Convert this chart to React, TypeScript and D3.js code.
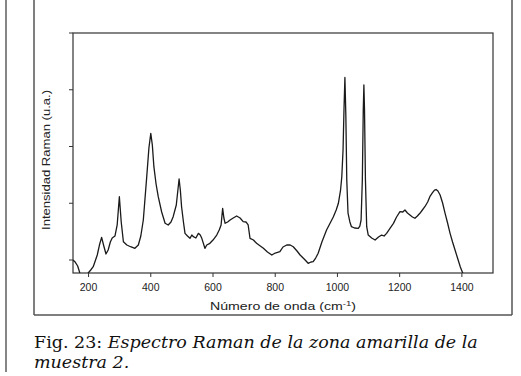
import React from "react";
import * as d3 from "d3";

const wavenumbers = [150,156,165,172,180,192,199,207,215,228,235,242,249,256,263,270,276,285,292,299,305,312,323,335,349,360,368,376,387,394,400,405,410,417,424,435,446,456,465,472,482,491,495,499,505,510,518,526,532,537,545,553,559,564,574,580,590,600,612,620,626,631,635,639,647,655,665,676,687,697,706,713,719,730,740,752,762,775,789,800,815,825,837,848,858,870,880,893,906,915,922,930,938,950,965,975,987,996,1003,1010,1014,1018,1021,1024,1027,1030,1034,1040,1045,1055,1067,1072,1076,1080,1083,1085,1087,1090,1094,1099,1110,1121,1132,1142,1150,1158,1170,1180,1190,1201,1210,1217,1225,1233,1241,1249,1257,1265,1273,1281,1290,1297,1305,1312,1317,1323,1330,1338,1346,1354,1362,1370,1378,1386,1395,1403];
const intensity = [0,-30,-106,-229,-300,-300,-229,-176,-118,88,264,400,247,106,176,317,388,423,617,1115,670,322,264,234,206,264,423,705,1468,1973,2232,2026,1644,1339,1115,846,647,617,670,763,969,1427,1233,939,670,470,423,382,440,411,388,470,440,382,206,264,294,352,440,529,617,911,740,647,670,705,740,775,740,675,670,617,382,352,294,247,206,141,88,123,146,229,264,264,234,159,88,18,-58,-35,-30,35,118,317,529,634,763,881,999,1233,1468,1938,2643,3216,2555,1410,828,670,587,564,559,599,705,1410,2643,3084,2643,1410,587,440,388,352,405,440,423,470,564,646,758,851,846,881,828,793,758,735,775,823,881,939,1022,1115,1181,1233,1242,1216,1145,1004,823,652,470,317,176,35,-123,-234];

const xTicks = [200, 400, 600, 800, 1000, 1200, 1400];
const yTicks = [0, 1000, 2000, 3000, 4000];

export default function App() {
  const W = 521, H = 376;
  const left = 73, right = 493, top = 33, bottom = 273;
  const x = d3.scaleLinear().domain([150, 1500]).range([left, right]);
  const y = d3.scaleLinear().domain([-229, 4000]).range([bottom, top]);
  const data = wavenumbers.map((w, i) => [w, intensity[i]] as [number, number]);
  const line = d3.line<[number, number]>().x(d => x(d[0])).y(d => y(d[1])).curve(d3.curveLinear);
  const frame = "#555";
  const font = "Liberation Sans, Arial, sans-serif";
  return (
    <svg width={W} height={H} style={{ position: "absolute", left: 0, top: 0, background: "#fff" }}>
      <defs>
        <clipPath id="pc"><rect x={left} y={top} width={right - left} height={bottom - top} /></clipPath>
      </defs>
      <line x1={6} y1={0} x2={6} y2={372} stroke="#444" strokeWidth={1.3} />
      <line x1={34} y1={0} x2={34} y2={315} stroke={frame} strokeWidth={1.5} />
      <line x1={512} y1={0} x2={512} y2={315} stroke={frame} strokeWidth={1.5} />
      <line x1={34} y1={315} x2={512} y2={315} stroke={frame} strokeWidth={1.5} />
      <rect x={left} y={top} width={right - left} height={bottom - top} fill="none" stroke="#333" strokeWidth={1.2} />
      {yTicks.map(t => (
        <line key={"y" + t} x1={left - 4} x2={left} y1={y(t)} y2={y(t)} stroke="#333" strokeWidth={1} />
      ))}
      {xTicks.map(t => (
        <g key={"x" + t}>
          <line x1={x(t)} x2={x(t)} y1={bottom} y2={bottom + 4} stroke="#333" strokeWidth={1} />
          <text x={x(t)} y={291} textAnchor="middle" fontFamily={font} fontSize={10.5} fill="#222">{t}</text>
        </g>
      ))}
      <path d={line(data) || ""} fill="none" stroke="#1a1a1a" strokeWidth={1.3} clipPath="url(#pc)" strokeLinejoin="round" />
      <text transform={`translate(50,160) rotate(-90)`} textAnchor="middle" fontFamily={font} fontSize={11} fill="#222" textLength={140} lengthAdjust="spacingAndGlyphs">Intensidad Raman (u.a.)</text>
      <text x={(left + right) / 2} y={310} textAnchor="middle" fontFamily={font} fontSize={11} fill="#222" textLength={146} lengthAdjust="spacingAndGlyphs">
        Número de onda (cm<tspan dy={-4} fontSize={7.5}>-1</tspan><tspan dy={4}>)</tspan>
      </text>
      <text x={34} y={348} fontFamily="DejaVu Serif, serif" fontSize={17.5} fill="#111">
        Fig. 23: <tspan fontStyle="italic">Espectro Raman de la zona amarilla de la</tspan>
      </text>
      <text x={34} y={368} fontFamily="DejaVu Serif, serif" fontSize={17.5} fontStyle="italic" fill="#111">muestra 2.</text>
    </svg>
  );
}
